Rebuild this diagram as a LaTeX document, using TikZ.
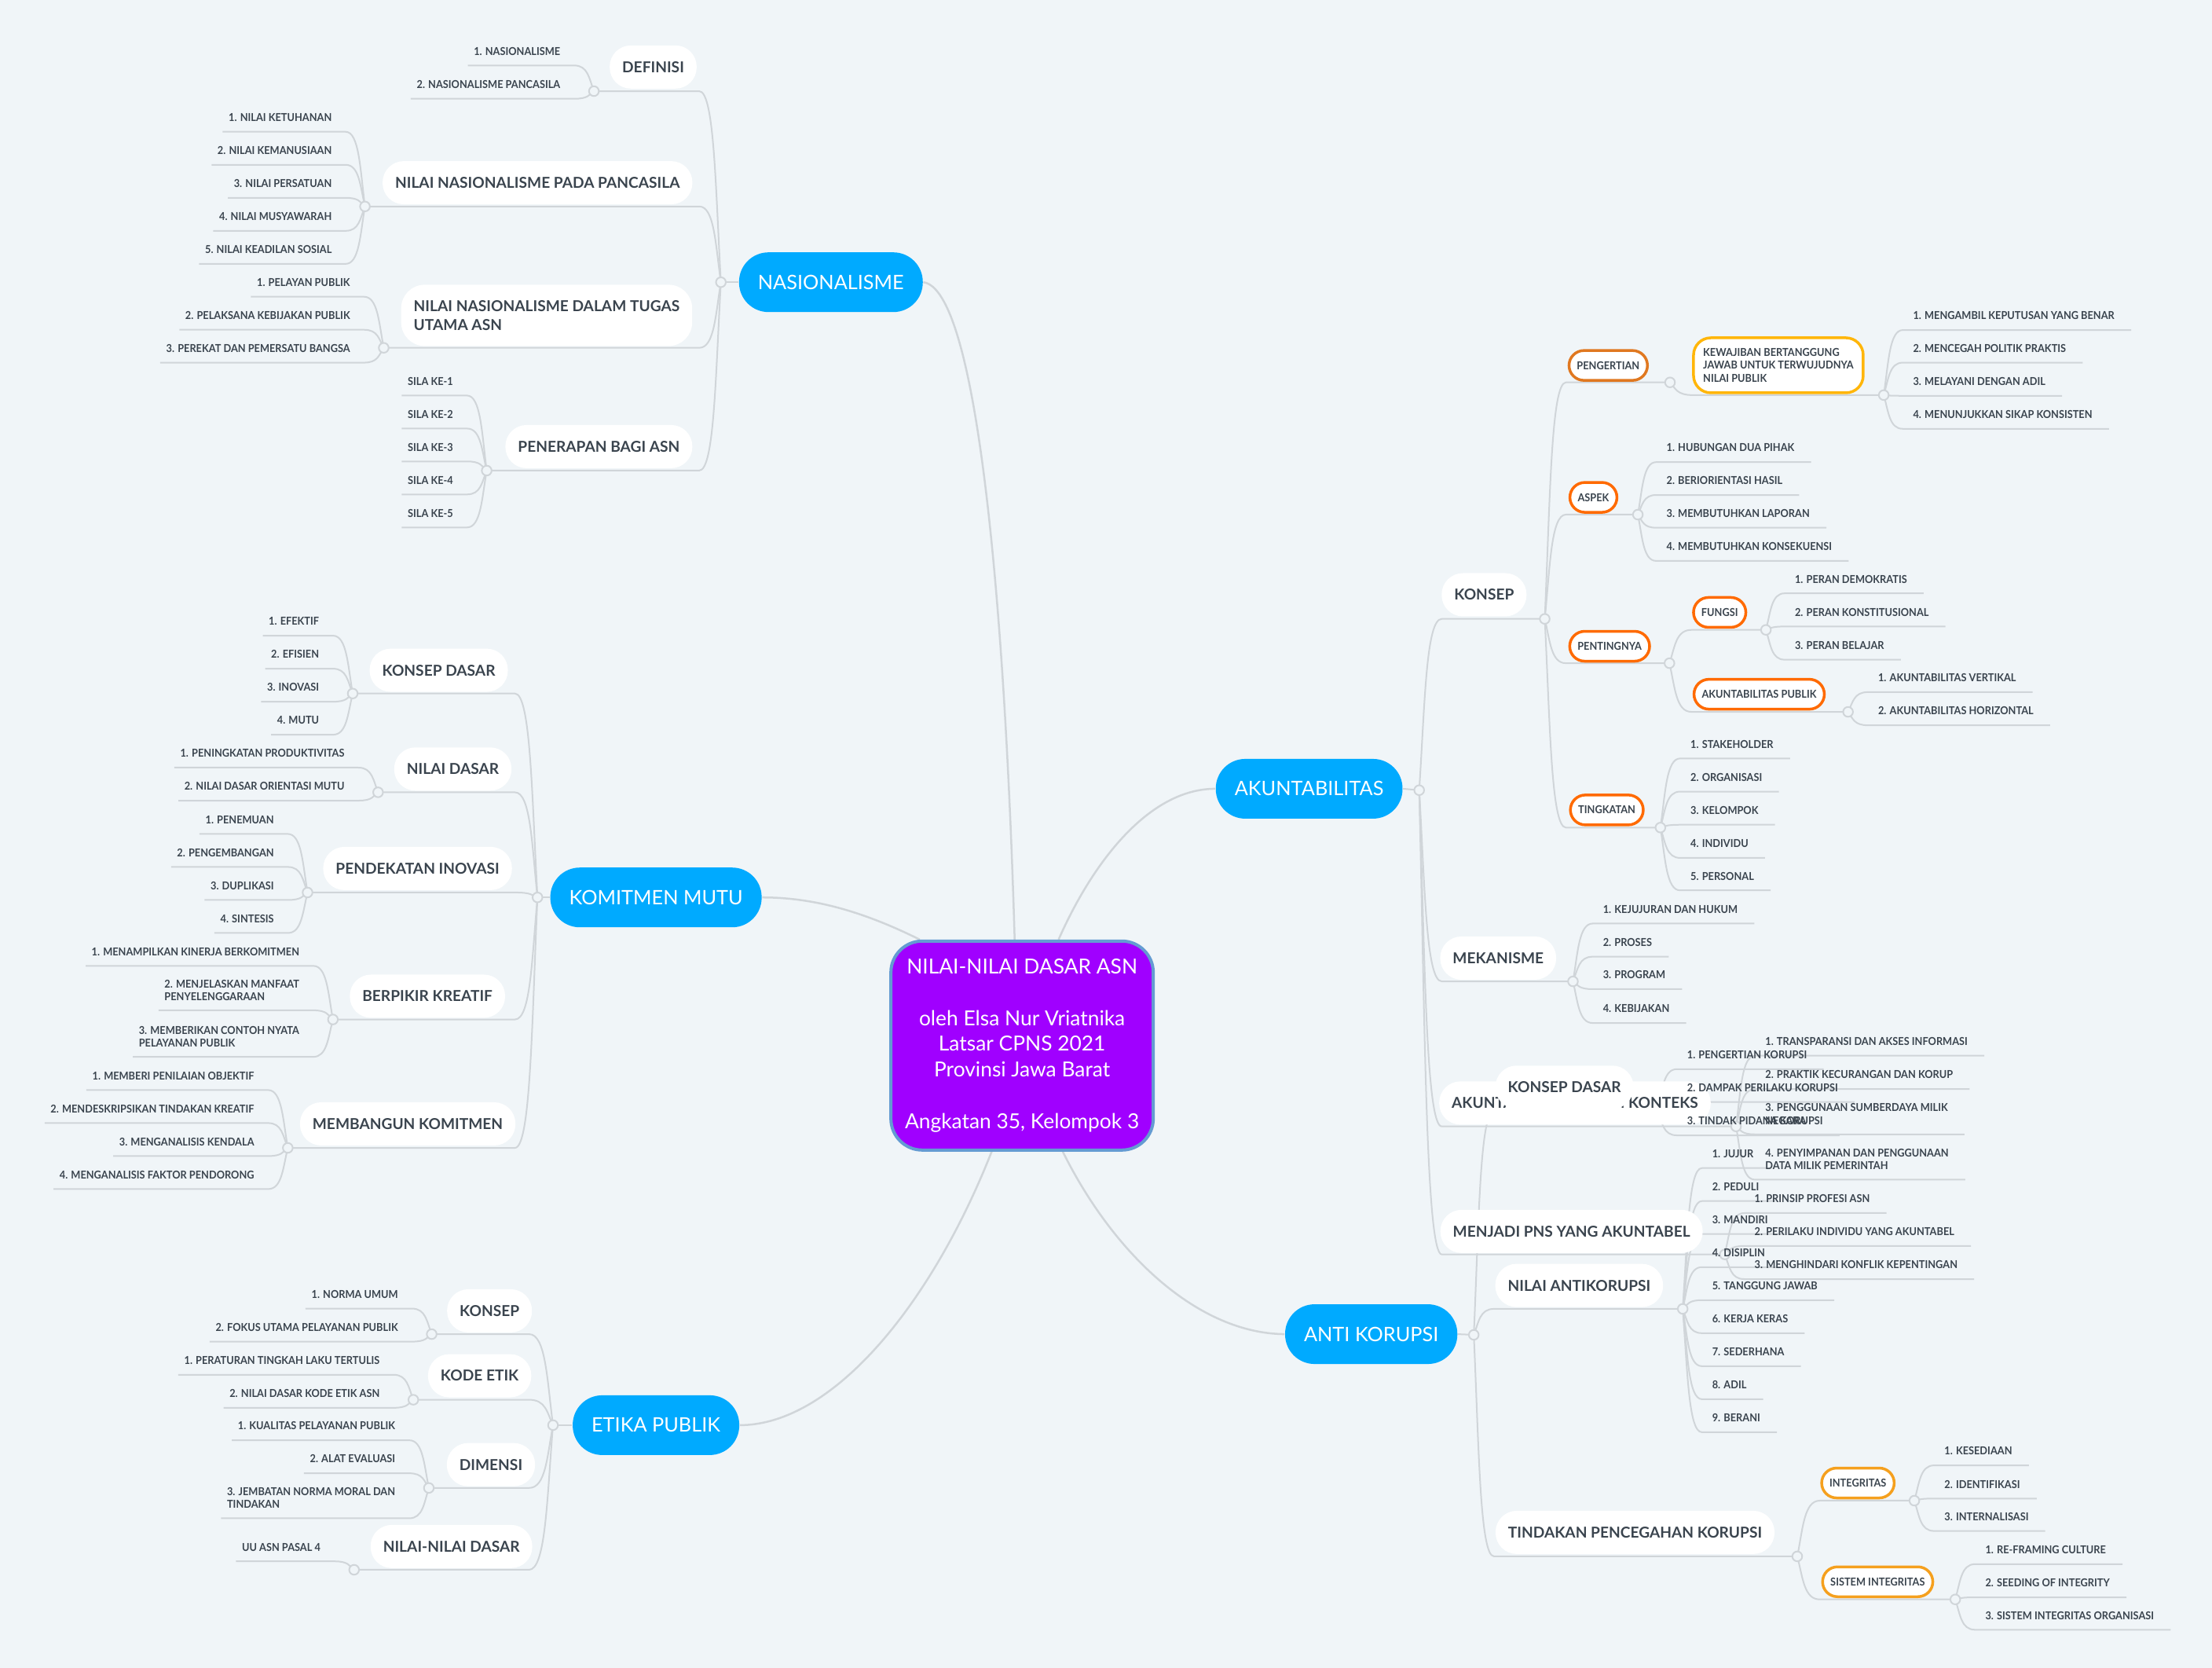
\documentclass[tikz,border=0pt]{standalone}
\usepackage{xcolor}
\usepackage{fontspec}
\setmainfont{Lato}
\newfontfamily\leaffont{Lato}[FakeStretch=0.92]
\usetikzlibrary{backgrounds,calc}
\begin{document}
\begin{tikzpicture}[x = 0.017959cm, y = -0.017959cm]

  % COLORS
  \definecolor{bgcolor}{RGB}{240,245,248}
  \definecolor{linecolor}{RGB}{208,213,217}
  \definecolor{textcolor}{RGB}{58,68,78}
  \definecolor{rootcolor}{RGB}{160,0,255}
  \definecolor{rootedge}{RGB}{100,155,210}
  \definecolor{bluecolor}{RGB}{0,170,255}
  \definecolor{edgepengertian}{RGB}{224,120,32}
  \definecolor{edgeyellow}{RGB}{255,182,10}
  \definecolor{edgeorange}{RGB}{255,106,0}
  \definecolor{edgeamber}{RGB}{245,160,30}

  % STYLES
  \tikzstyle{root} = [draw=rootedge, fill=rootcolor, text=white, line width=0.04cm, rounded corners=0.4cm, minimum width=3.34cm, minimum height=2.66cm, align=center, inner sep=0pt, font=\fontsize{7.5}{9.3}\selectfont]
  \tikzstyle{main} = [fill=bluecolor, text=white, rounded corners=0.375cm, minimum height=0.76cm, inner ysep=0pt, inner xsep=0.24cm, font=\fontsize{7.2}{9}\selectfont]
  \tikzstyle{sub} = [fill=white, text=textcolor, rounded corners=0.27cm, minimum height=0.55cm, inner ysep=0pt, inner xsep=0.16cm, align=left, font=\bfseries\fontsize{5.45}{6.9}\selectfont]
  \tikzstyle{tag} = [fill=white, text=textcolor, line width=0.035cm, rounded corners=0.19cm, minimum height=0.38cm, inner ysep=0pt, inner xsep=0.1cm, align=left, font=\leaffont\bfseries\fontsize{3.95}{4.6}\selectfont]
  \tikzstyle{hub} = [circle, draw=linecolor, fill=bgcolor, line width=0.02cm, inner sep=0pt, minimum size=0.125cm]
  \tikzstyle{leaf} = [text=textcolor, inner ysep=0pt, minimum height=0.35cm, align=left, font=\leaffont\bfseries\fontsize{3.95}{4.6}\selectfont]
  \tikzstyle{leafl} = [leaf, anchor=south east, inner xsep=0.07cm, execute at end node={\kern0.1cm}]
  \tikzstyle{leafr} = [leaf, anchor=south west, inner xsep=0.125cm, execute at end node={\kern0.08cm}]
  \tikzstyle{twolines} = [minimum height=0.5cm]
  \tikzstyle{link} = [draw=linecolor, line width=0.02cm, to path={let \p1=(\tikztostart), \p2=(\tikztotarget) in .. controls ({\x1+0.25*(\x2-\x1)},{\y1+0.5*(\y2-\y1)}) and ({\x1+0.3*(\x2-\x1)},\y2) .. (\tikztotarget)}]
  \tikzstyle{mainlink} = [draw=linecolor, line width=0.025cm]

  \useasboundingbox (0,0) rectangle (1568,1182);

  % DEF HUBS
  \node[hub] (hub_nas) at (511,200) {};
  \node[hub] (hub_def) at (421,64.6) {};
  \node[hub] (hub_pan) at (258.7,146.3) {};
  \node[hub] (hub_tug) at (272,246.5) {};
  \node[hub] (hub_pen) at (345,333.5) {};
  \node[hub] (hub_kom) at (381,636) {};
  \node[hub] (hub_kds) at (250,491.5) {};
  \node[hub] (hub_nds) at (268,561.5) {};
  \node[hub] (hub_ino) at (218,632.5) {};
  \node[hub] (hub_kre) at (236,722.5) {};
  \node[hub] (hub_bng) at (204,813.5) {};
  \node[hub] (hub_eti) at (392,1010) {};
  \node[hub] (hub_kon) at (306,945.5) {};
  \node[hub] (hub_kod) at (293,992) {};
  \node[hub] (hub_dim) at (304,1054.5) {};
  \node[hub] (hub_nnd) at (251,1112.5) {};
  \node[hub] (hub_aku) at (1006,560) {};
  \node[hub] (hub_ksp) at (1095,438.6) {};
  \node[hub] (hub_png) at (1183.8,271) {};
  \node[hub] (hub_kwj) at (1335.3,280) {};
  \node[hub] (hub_asp) at (1161,364.7) {};
  \node[hub] (hub_pnt) at (1183.4,470) {};
  \node[hub] (hub_fng) at (1251.8,446.4) {};
  \node[hub] (hub_pub) at (1310,504.5) {};
  \node[hub] (hub_tkt) at (1177,586.5) {};
  \node[hub] (hub_mek) at (1115,695.5) {};
  \node[hub] (hub_ktk) at (1230.6,798.3) {};
  \node[hub] (hub_pns) at (1222.6,889) {};
  \node[hub] (hub_ant) at (1044.7,946) {};
  \node[hub] (hub_kda) at (1175,787.5) {};
  \node[hub] (hub_nak) at (1192.8,927.6) {};
  \node[hub] (hub_tin) at (1274,1103) {};
  \node[hub] (hub_int) at (1357,1063.5) {};
  \node[hub] (hub_sis) at (1386,1133.5) {};

  % DEF KNEES
  \coordinate (knee_nas) at (495.6,0);
  \coordinate (knee_kom) at (365,0);
  \coordinate (knee_eti) at (375,0);
  \coordinate (knee_aku) at (1022,0);
  \coordinate (knee_ksp) at (1110,0);
  \coordinate (knee_png) at (1200,0);
  \coordinate (knee_pnt) at (1199,0);
  \coordinate (knee_ant) at (1059,0);
  \coordinate (knee_tin) at (1290,0);

  % DEF MAIN NODES
  \node[root] (asn) at (724.5,741) {NILAI-NILAI DASAR ASN\\~\\oleh Elsa Nur Vriatnika\\Latsar CPNS 2021\\Provinsi Jawa Barat\\~\\Angkatan 35, Kelompok 3};
  \node[main] (nas) at (589,200) {NASIONALISME};
  \node[main] (kom) at (465,636) {KOMITMEN MUTU};
  \node[main] (eti) at (465,1010) {ETIKA PUBLIK};
  \node[main] (aku) at (928,559) {AKUNTABILITAS};
  \node[main] (ant) at (972,945.5) {ANTI KORUPSI};

  % DEF SUB NODES
  \node[sub] (def) at (463,47.5) {DEFINISI};
  \node[sub] (pan) at (381,129.5) {NILAI NASIONALISME PADA PANCASILA};
  \node[sub, minimum height=0.78cm, rounded corners=0.3cm] (tug) at (387.5,223.5) {NILAI NASIONALISME DALAM TUGAS\\UTAMA ASN};
  \node[sub] (pen) at (424.5,316.5) {PENERAPAN BAGI ASN};
  \node[sub] (kds) at (311,475) {KONSEP DASAR};
  \node[sub] (nds) at (321,545) {NILAI DASAR};
  \node[sub] (ino) at (296,615.5) {PENDEKATAN INOVASI};
  \node[sub] (kre) at (303,706) {BERPIKIR KREATIF};
  \node[sub] (bng) at (289,796.5) {MEMBANGUN KOMITMEN};
  \node[sub] (kon) at (347,929) {KONSEP};
  \node[sub] (kod) at (340,975) {KODE ETIK};
  \node[sub] (dim) at (348,1038) {DIMENSI};
  \node[sub] (nnd) at (320,1096) {NILAI-NILAI DASAR};
  \node[sub] (ksp) at (1052,421.5) {KONSEP};
  \node[sub] (mek) at (1062,679) {MEKANISME};
  \node[sub] (ktk) at (1116.4,781.7) {AKUNTABILITAS DALAM KONTEKS};
  \node[sub] (pns) at (1114,872.7) {MENJADI PNS YANG AKUNTABEL};
  \node[sub] (kda) at (1109,770.5) {KONSEP DASAR};
  \node[sub] (nak) at (1119.4,911) {NILAI ANTIKORUPSI};
  \node[sub] (tin) at (1159,1086) {TINDAKAN PENCEGAHAN KORUPSI};

  % DEF TAG NODES
  \node[tag, draw=edgepengertian] (png) at (1140,259) {PENGERTIAN};
  \node[tag, draw=edgeyellow, rounded corners=0.22cm, minimum height=0.7cm, minimum width=2.16cm] (kwj) at (1260.6,258.9) {KEWAJIBAN BERTANGGUNG\\JAWAB UNTUK TERWUJUDNYA\\NILAI PUBLIK};
  \node[tag, draw=edgeorange] (asp) at (1129.5,352.5) {ASPEK};
  \node[tag, draw=edgeorange] (pnt) at (1141,458) {PENTINGNYA};
  \node[tag, draw=edgeorange] (fng) at (1219,434) {FUNGSI};
  \node[tag, draw=edgeorange] (pub) at (1247,492) {AKUNTABILITAS PUBLIK};
  \node[tag, draw=edgeorange] (tkt) at (1139,574) {TINGKATAN};
  \node[tag, draw=edgeamber] (int) at (1317,1051) {INTEGRITAS};
  \node[tag, draw=edgeamber] (sis) at (1331,1121) {SISTEM INTEGRITAS};

  % LEAVES NASIONALISME
  \node[leafl] (l1_def) at (407,46.4) {1. NASIONALISME};
  \node[leafl] (l2_def) at (407,70) {2. NASIONALISME PANCASILA};
  \node[leafl] (l1_pan) at (245,93.4) {1. NILAI KETUHANAN};
  \node[leafl] (l2_pan) at (245,116.8) {2. NILAI KEMANUSIAAN};
  \node[leafl] (l3_pan) at (245,140.2) {3. NILAI PERSATUAN};
  \node[leafl] (l4_pan) at (245,163.6) {4. NILAI MUSYAWARAH};
  \node[leafl] (l5_pan) at (245,187) {5. NILAI KEADILAN SOSIAL};
  \node[leafl] (l1_tug) at (258,210.3) {1. PELAYAN PUBLIK};
  \node[leafl] (l2_tug) at (258,233.7) {2. PELAKSANA KEBIJAKAN PUBLIK};
  \node[leafl] (l3_tug) at (258,257) {3. PEREKAT DAN PEMERSATU BANGSA};
  \node[leafl] (l1_pen) at (331,280.3) {SILA KE-1};
  \node[leafl] (l2_pen) at (331,303.7) {SILA KE-2};
  \node[leafl] (l3_pen) at (331,327) {SILA KE-3};
  \node[leafl] (l4_pen) at (331,350.4) {SILA KE-4};
  \node[leafl] (l5_pen) at (331,373.8) {SILA KE-5};

  % LEAVES KOMITMEN MUTU
  \node[leafl] (l1_kds) at (236,450.5) {1. EFEKTIF};
  \node[leafl] (l2_kds) at (236,473.9) {2. EFISIEN};
  \node[leafl] (l3_kds) at (236,497.3) {3. INOVASI};
  \node[leafl] (l4_kds) at (236,520.7) {4. MUTU};
  \node[leafl] (l1_nds) at (254,544) {1. PENINGKATAN PRODUKTIVITAS};
  \node[leafl] (l2_nds) at (254,567.4) {2. NILAI DASAR ORIENTASI MUTU};
  \node[leafl] (l1_ino) at (204,591) {1. PENEMUAN};
  \node[leafl] (l2_ino) at (204,614.4) {2. PENGEMBANGAN};
  \node[leafl] (l3_ino) at (204,637.8) {3. DUPLIKASI};
  \node[leafl] (l4_ino) at (204,661.2) {4. SINTESIS};
  \node[leafl] (l1_kre) at (222,684.5) {1. MENAMPILKAN KINERJA BERKOMITMEN};
  \node[leafl, twolines] (l2_kre) at (222,716) {2. MENJELASKAN MANFAAT\\PENYELENGGARAAN};
  \node[leafl, twolines] (l3_kre) at (222,749) {3. MEMBERIKAN CONTOH NYATA\\PELAYANAN PUBLIK};
  \node[leafl] (l1_bng) at (190,772.5) {1. MEMBERI PENILAIAN OBJEKTIF};
  \node[leafl] (l2_bng) at (190,795.9) {2. MENDESKRIPSIKAN TINDAKAN KREATIF};
  \node[leafl] (l3_bng) at (190,819.3) {3. MENGANALISIS KENDALA};
  \node[leafl] (l4_bng) at (190,842.7) {4. MENGANALISIS FAKTOR PENDORONG};

  % LEAVES ETIKA PUBLIK
  \node[leafl] (l1_kon) at (292,927.4) {1. NORMA UMUM};
  \node[leafl] (l2_kon) at (292,950.8) {2. FOKUS UTAMA PELAYANAN PUBLIK};
  \node[leafl] (l1_kod) at (279,974.3) {1. PERATURAN TINGKAH LAKU TERTULIS};
  \node[leafl] (l2_kod) at (279,997.7) {2. NILAI DASAR KODE ETIK ASN};
  \node[leafl] (l1_dim) at (290,1020.7) {1. KUALITAS PELAYANAN PUBLIK};
  \node[leafl] (l2_dim) at (290,1044.1) {2. ALAT EVALUASI};
  \node[leafl, twolines] (l3_dim) at (290,1076) {3. JEMBATAN NORMA MORAL DAN\\TINDAKAN};
  \node[leafl] (l1_nnd) at (237,1106.5) {UU ASN PASAL 4};

  % LEAVES AKUNTABILITAS
  \node[leafr] (l1_kwj) at (1348.8,233.9) {1. MENGAMBIL KEPUTUSAN YANG BENAR};
  \node[leafr] (l2_kwj) at (1348.8,257) {2. MENCEGAH POLITIK PRAKTIS};
  \node[leafr] (l3_kwj) at (1348.8,280.5) {3. MELAYANI DENGAN ADIL};
  \node[leafr] (l4_kwj) at (1348.8,303.9) {4. MENUNJUKKAN SIKAP KONSISTEN};
  \node[leafr] (l1_asp) at (1174,327.5) {1. HUBUNGAN DUA PIHAK};
  \node[leafr] (l2_asp) at (1174,350.8) {2. BERIORIENTASI HASIL};
  \node[leafr] (l3_asp) at (1174,374) {3. MEMBUTUHKAN LAPORAN};
  \node[leafr] (l4_asp) at (1174,397.5) {4. MEMBUTUHKAN KONSEKUENSI};
  \node[leafr] (l1_fng) at (1265,420.5) {1. PERAN DEMOKRATIS};
  \node[leafr] (l2_fng) at (1265,444) {2. PERAN KONSTITUSIONAL};
  \node[leafr] (l3_fng) at (1265,467.5) {3. PERAN BELAJAR};
  \node[leafr] (l1_pub) at (1324,490.5) {1. AKUNTABILITAS VERTIKAL};
  \node[leafr] (l2_pub) at (1324,514) {2. AKUNTABILITAS HORIZONTAL};
  \node[leafr] (l1_tkt) at (1191,537.5) {1. STAKEHOLDER};
  \node[leafr] (l2_tkt) at (1191,561) {2. ORGANISASI};
  \node[leafr] (l3_tkt) at (1191,584.5) {3. KELOMPOK};
  \node[leafr] (l4_tkt) at (1191,608) {4. INDIVIDU};
  \node[leafr] (l5_tkt) at (1191,631) {5. PERSONAL};
  \node[leafr] (l1_mek) at (1129,654.5) {1. KEJUJURAN DAN HUKUM};
  \node[leafr] (l2_mek) at (1129,678) {2. PROSES};
  \node[leafr] (l3_mek) at (1129,701) {3. PROGRAM};
  \node[leafr] (l4_mek) at (1129,725) {4. KEBIJAKAN};
  \node[leafr] (l1_ktk) at (1244,748.2) {1. TRANSPARANSI DAN AKSES INFORMASI};
  \node[leafr] (l2_ktk) at (1244,771.8) {2. PRAKTIK KECURANGAN DAN KORUP};
  \node[leafr, twolines] (l3_ktk) at (1244,803.9) {3. PENGGUNAAN SUMBERDAYA MILIK\\NEGARA};
  \node[leafr, twolines] (l4_ktk) at (1244,836) {4. PENYIMPANAN DAN PENGGUNAAN\\DATA MILIK PEMERINTAH};
  \node[leafr] (l1_pns) at (1236.4,859.7) {1. PRINSIP PROFESI ASN};
  \node[leafr] (l2_pns) at (1236.4,883) {2. PERILAKU INDIVIDU YANG AKUNTABEL};
  \node[leafr] (l3_pns) at (1236.4,906.5) {3. MENGHINDARI KONFLIK KEPENTINGAN};

  % LEAVES ANTI KORUPSI
  \node[leafr] (l1_kda) at (1188.6,757.7) {1. PENGERTIAN KORUPSI};
  \node[leafr] (l2_kda) at (1188.6,781) {2. DAMPAK PERILAKU KORUPSI};
  \node[leafr] (l3_kda) at (1188.6,804.6) {3. TINDAK PIDANA KORUPSI};
  \node[leafr] (l1_nak) at (1206.4,827.8) {1. JUJUR};
  \node[leafr] (l2_nak) at (1206.4,851.2) {2. PEDULI};
  \node[leafr] (l3_nak) at (1206.4,874.6) {3. MANDIRI};
  \node[leafr] (l4_nak) at (1206.4,898) {4. DISIPLIN};
  \node[leafr] (l5_nak) at (1206.4,921.4) {5. TANGGUNG JAWAB};
  \node[leafr] (l6_nak) at (1206.4,944.8) {6. KERJA KERAS};
  \node[leafr] (l7_nak) at (1206.4,968.2) {7. SEDERHANA};
  \node[leafr] (l8_nak) at (1206.4,991.6) {8. ADIL};
  \node[leafr] (l9_nak) at (1206.4,1015) {9. BERANI};
  \node[leafr] (l1_int) at (1371,1038.5) {1. KESEDIAAN};
  \node[leafr] (l2_int) at (1371,1062) {2. IDENTIFIKASI};
  \node[leafr] (l3_int) at (1371,1085) {3. INTERNALISASI};
  \node[leafr] (l1_sis) at (1400,1108.5) {1. RE-FRAMING CULTURE};
  \node[leafr] (l2_sis) at (1400,1132) {2. SEEDING OF INTEGRITY};
  \node[leafr] (l3_sis) at (1400,1155) {3. SISTEM INTEGRITAS ORGANISASI};

  \begin{pgfonlayer}{background}
  \fill[bgcolor] (0,0) rectangle (1568,1182);

  % LINKS FROM ROOT
  \draw[mainlink] (asn.94) .. controls (712,420) and (692,205) .. (nas.east);
  \draw[mainlink] (asn.71) .. controls (775,610) and (815,559) .. (aku.west);
  \draw[mainlink] (asn.134.6) .. controls (610,645) and (575,636) .. (kom.east);
  \draw[mainlink] (asn.254) .. controls (660,925) and (590,1010) .. (eti.east);
  \draw[mainlink] (asn.291) .. controls (790,890) and (850,945) .. (ant.west);

  % LINKS NASIONALISME
  \draw[link] (nas.west) -- (hub_nas.center);
  \draw[link] (hub_nas.center) to (hub_def -| knee_nas) -- (hub_def.center);
  \draw[link] (hub_nas.center) to (hub_pan -| knee_nas) -- (hub_pan.center);
  \draw[link] (hub_nas.center) to (hub_tug -| knee_nas) -- (hub_tug.center);
  \draw[link] (hub_nas.center) to (hub_pen -| knee_nas) -- (hub_pen.center);
  \draw[link] (hub_def.center) to (l1_def.south east) -- (l1_def.south west);
  \draw[link] (hub_def.center) to (l2_def.south east) -- (l2_def.south west);
  \draw[link] (hub_pan.center) to (l1_pan.south east) -- (l1_pan.south west);
  \draw[link] (hub_pan.center) to (l2_pan.south east) -- (l2_pan.south west);
  \draw[link] (hub_pan.center) to (l3_pan.south east) -- (l3_pan.south west);
  \draw[link] (hub_pan.center) to (l4_pan.south east) -- (l4_pan.south west);
  \draw[link] (hub_pan.center) to (l5_pan.south east) -- (l5_pan.south west);
  \draw[link] (hub_tug.center) to (l1_tug.south east) -- (l1_tug.south west);
  \draw[link] (hub_tug.center) to (l2_tug.south east) -- (l2_tug.south west);
  \draw[link] (hub_tug.center) to (l3_tug.south east) -- (l3_tug.south west);
  \draw[link] (hub_pen.center) to (l1_pen.south east) -- (l1_pen.south west);
  \draw[link] (hub_pen.center) to (l2_pen.south east) -- (l2_pen.south west);
  \draw[link] (hub_pen.center) to (l3_pen.south east) -- (l3_pen.south west);
  \draw[link] (hub_pen.center) to (l4_pen.south east) -- (l4_pen.south west);
  \draw[link] (hub_pen.center) to (l5_pen.south east) -- (l5_pen.south west);

  % LINKS KOMITMEN MUTU
  \draw[link] (kom.west) -- (hub_kom.center);
  \draw[link] (hub_kom.center) to (hub_kds -| knee_kom) -- (hub_kds.center);
  \draw[link] (hub_kom.center) to (hub_nds -| knee_kom) -- (hub_nds.center);
  \draw[link] (hub_kom.center) to (hub_ino -| knee_kom) -- (hub_ino.center);
  \draw[link] (hub_kom.center) to (hub_kre -| knee_kom) -- (hub_kre.center);
  \draw[link] (hub_kom.center) to (hub_bng -| knee_kom) -- (hub_bng.center);
  \draw[link] (hub_kds.center) to (l1_kds.south east) -- (l1_kds.south west);
  \draw[link] (hub_kds.center) to (l2_kds.south east) -- (l2_kds.south west);
  \draw[link] (hub_kds.center) to (l3_kds.south east) -- (l3_kds.south west);
  \draw[link] (hub_kds.center) to (l4_kds.south east) -- (l4_kds.south west);
  \draw[link] (hub_nds.center) to (l1_nds.south east) -- (l1_nds.south west);
  \draw[link] (hub_nds.center) to (l2_nds.south east) -- (l2_nds.south west);
  \draw[link] (hub_ino.center) to (l1_ino.south east) -- (l1_ino.south west);
  \draw[link] (hub_ino.center) to (l2_ino.south east) -- (l2_ino.south west);
  \draw[link] (hub_ino.center) to (l3_ino.south east) -- (l3_ino.south west);
  \draw[link] (hub_ino.center) to (l4_ino.south east) -- (l4_ino.south west);
  \draw[link] (hub_kre.center) to (l1_kre.south east) -- (l1_kre.south west);
  \draw[link] (hub_kre.center) to (l2_kre.south east) -- (l2_kre.south west);
  \draw[link] (hub_kre.center) to (l3_kre.south east) -- (l3_kre.south west);
  \draw[link] (hub_bng.center) to (l1_bng.south east) -- (l1_bng.south west);
  \draw[link] (hub_bng.center) to (l2_bng.south east) -- (l2_bng.south west);
  \draw[link] (hub_bng.center) to (l3_bng.south east) -- (l3_bng.south west);
  \draw[link] (hub_bng.center) to (l4_bng.south east) -- (l4_bng.south west);

  % LINKS ETIKA PUBLIK
  \draw[link] (eti.west) -- (hub_eti.center);
  \draw[link] (hub_eti.center) to (hub_kon -| knee_eti) -- (hub_kon.center);
  \draw[link] (hub_eti.center) to (hub_kod -| knee_eti) -- (hub_kod.center);
  \draw[link] (hub_eti.center) to (hub_dim -| knee_eti) -- (hub_dim.center);
  \draw[link] (hub_eti.center) to (hub_nnd -| knee_eti) -- (hub_nnd.center);
  \draw[link] (hub_kon.center) to (l1_kon.south east) -- (l1_kon.south west);
  \draw[link] (hub_kon.center) to (l2_kon.south east) -- (l2_kon.south west);
  \draw[link] (hub_kod.center) to (l1_kod.south east) -- (l1_kod.south west);
  \draw[link] (hub_kod.center) to (l2_kod.south east) -- (l2_kod.south west);
  \draw[link] (hub_dim.center) to (l1_dim.south east) -- (l1_dim.south west);
  \draw[link] (hub_dim.center) to (l2_dim.south east) -- (l2_dim.south west);
  \draw[link] (hub_dim.center) to (l3_dim.south east) -- (l3_dim.south west);
  \draw[link] (hub_nnd.center) to (l1_nnd.south east) -- (l1_nnd.south west);

  % LINKS AKUNTABILITAS
  \draw[link] (aku.east) -- (hub_aku.center);
  \draw[link] (hub_aku.center) to (hub_ksp -| knee_aku) -- (hub_ksp.center);
  \draw[link] (hub_aku.center) to (hub_mek -| knee_aku) -- (hub_mek.center);
  \draw[link] (hub_aku.center) to (hub_ktk -| knee_aku) -- (hub_ktk.center);
  \draw[link] (hub_aku.center) to (hub_pns -| knee_aku) -- (hub_pns.center);
  \draw[link] (hub_ksp.center) to (hub_png -| knee_ksp) -- (hub_png.center);
  \draw[link] (hub_ksp.center) to (hub_asp -| knee_ksp) -- (hub_asp.center);
  \draw[link] (hub_ksp.center) to (hub_pnt -| knee_ksp) -- (hub_pnt.center);
  \draw[link] (hub_ksp.center) to (hub_tkt -| knee_ksp) -- (hub_tkt.center);
  \draw[link] (hub_png.center) to (hub_kwj -| knee_png) -- (hub_kwj.center);
  \draw[link] (hub_pnt.center) to (hub_fng -| knee_pnt) -- (hub_fng.center);
  \draw[link] (hub_pnt.center) to (hub_pub -| knee_pnt) -- (hub_pub.center);
  \draw[link] (hub_kwj.center) to (l1_kwj.south west) -- (l1_kwj.south east);
  \draw[link] (hub_kwj.center) to (l2_kwj.south west) -- (l2_kwj.south east);
  \draw[link] (hub_kwj.center) to (l3_kwj.south west) -- (l3_kwj.south east);
  \draw[link] (hub_kwj.center) to (l4_kwj.south west) -- (l4_kwj.south east);
  \draw[link] (hub_asp.center) to (l1_asp.south west) -- (l1_asp.south east);
  \draw[link] (hub_asp.center) to (l2_asp.south west) -- (l2_asp.south east);
  \draw[link] (hub_asp.center) to (l3_asp.south west) -- (l3_asp.south east);
  \draw[link] (hub_asp.center) to (l4_asp.south west) -- (l4_asp.south east);
  \draw[link] (hub_fng.center) to (l1_fng.south west) -- (l1_fng.south east);
  \draw[link] (hub_fng.center) to (l2_fng.south west) -- (l2_fng.south east);
  \draw[link] (hub_fng.center) to (l3_fng.south west) -- (l3_fng.south east);
  \draw[link] (hub_pub.center) to (l1_pub.south west) -- (l1_pub.south east);
  \draw[link] (hub_pub.center) to (l2_pub.south west) -- (l2_pub.south east);
  \draw[link] (hub_tkt.center) to (l1_tkt.south west) -- (l1_tkt.south east);
  \draw[link] (hub_tkt.center) to (l2_tkt.south west) -- (l2_tkt.south east);
  \draw[link] (hub_tkt.center) to (l3_tkt.south west) -- (l3_tkt.south east);
  \draw[link] (hub_tkt.center) to (l4_tkt.south west) -- (l4_tkt.south east);
  \draw[link] (hub_tkt.center) to (l5_tkt.south west) -- (l5_tkt.south east);
  \draw[link] (hub_mek.center) to (l1_mek.south west) -- (l1_mek.south east);
  \draw[link] (hub_mek.center) to (l2_mek.south west) -- (l2_mek.south east);
  \draw[link] (hub_mek.center) to (l3_mek.south west) -- (l3_mek.south east);
  \draw[link] (hub_mek.center) to (l4_mek.south west) -- (l4_mek.south east);
  \draw[link] (hub_ktk.center) to (l1_ktk.south west) -- (l1_ktk.south east);
  \draw[link] (hub_ktk.center) to (l2_ktk.south west) -- (l2_ktk.south east);
  \draw[link] (hub_ktk.center) to (l3_ktk.south west) -- (l3_ktk.south east);
  \draw[link] (hub_ktk.center) to (l4_ktk.south west) -- (l4_ktk.south east);
  \draw[link] (hub_pns.center) to (l1_pns.south west) -- (l1_pns.south east);
  \draw[link] (hub_pns.center) to (l2_pns.south west) -- (l2_pns.south east);
  \draw[link] (hub_pns.center) to (l3_pns.south west) -- (l3_pns.south east);

  % LINKS ANTI KORUPSI
  \draw[link] (ant.east) -- (hub_ant.center);
  \draw[link] (hub_ant.center) to (hub_kda -| knee_ant) -- (hub_kda.center);
  \draw[link] (hub_ant.center) to (hub_nak -| knee_ant) -- (hub_nak.center);
  \draw[link] (hub_ant.center) to (hub_tin -| knee_ant) -- (hub_tin.center);
  \draw[link] (hub_tin.center) to (hub_int -| knee_tin) -- (hub_int.center);
  \draw[link] (hub_tin.center) to (hub_sis -| knee_tin) -- (hub_sis.center);
  \draw[link] (hub_kda.center) to (l1_kda.south west) -- (l1_kda.south east);
  \draw[link] (hub_kda.center) to (l2_kda.south west) -- (l2_kda.south east);
  \draw[link] (hub_kda.center) to (l3_kda.south west) -- (l3_kda.south east);
  \draw[link] (hub_nak.center) to (l1_nak.south west) -- (l1_nak.south east);
  \draw[link] (hub_nak.center) to (l2_nak.south west) -- (l2_nak.south east);
  \draw[link] (hub_nak.center) to (l3_nak.south west) -- (l3_nak.south east);
  \draw[link] (hub_nak.center) to (l4_nak.south west) -- (l4_nak.south east);
  \draw[link] (hub_nak.center) to (l5_nak.south west) -- (l5_nak.south east);
  \draw[link] (hub_nak.center) to (l6_nak.south west) -- (l6_nak.south east);
  \draw[link] (hub_nak.center) to (l7_nak.south west) -- (l7_nak.south east);
  \draw[link] (hub_nak.center) to (l8_nak.south west) -- (l8_nak.south east);
  \draw[link] (hub_nak.center) to (l9_nak.south west) -- (l9_nak.south east);
  \draw[link] (hub_int.center) to (l1_int.south west) -- (l1_int.south east);
  \draw[link] (hub_int.center) to (l2_int.south west) -- (l2_int.south east);
  \draw[link] (hub_int.center) to (l3_int.south west) -- (l3_int.south east);
  \draw[link] (hub_sis.center) to (l1_sis.south west) -- (l1_sis.south east);
  \draw[link] (hub_sis.center) to (l2_sis.south west) -- (l2_sis.south east);
  \draw[link] (hub_sis.center) to (l3_sis.south west) -- (l3_sis.south east);
  \end{pgfonlayer}

\end{tikzpicture}
\end{document}
